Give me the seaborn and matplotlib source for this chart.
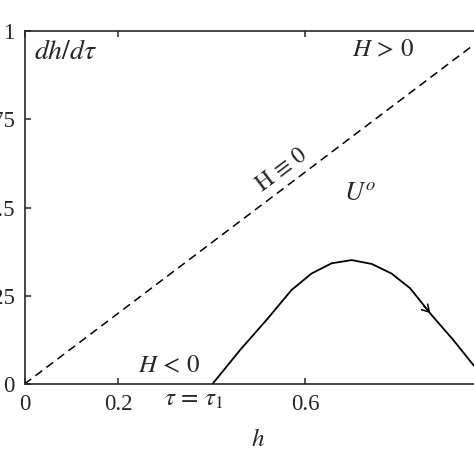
import matplotlib
matplotlib.use("Agg")
import matplotlib.pyplot as plt
import seaborn as sns
import pandas as pd

# values
diag_h = [0.0, 1.0]
diag_v = [0.0, 1.0]
curve_h = [0.402, 0.461, 0.520, 0.571, 0.614, 0.657, 0.700, 0.743, 0.785, 0.825, 0.871, 0.917, 0.96, 1.0]
curve_v = [0.0, 0.096, 0.185, 0.266, 0.313, 0.342, 0.351, 0.340, 0.313, 0.271, 0.195, 0.125, 0.054, 0.0]
xticks = [0, 0.2, 0.6]
xlabels = ["0", "0.2", "0.6"]
yticks = [0, 0.25, 0.5, 0.75, 1]
ylabels = ["0", "0.25", "0.5", "0.75", "1"]

sns.set_style("ticks")
plt.rcParams["font.family"] = ["Liberation Serif", "DejaVu Serif"]
plt.rcParams["mathtext.fontset"] = "stix"

fig = plt.figure(figsize=(4.74, 4.74), dpi=100)
ax = fig.add_axes([24.5 / 474, 90 / 474, 467.5 / 474, 353 / 474])

diag = pd.DataFrame({"h": diag_h, "v": diag_v})
curve = pd.DataFrame({"h": curve_h, "v": curve_v})
sns.lineplot(data=diag, x="h", y="v", ax=ax, color="black", lw=1.1,
             linestyle=(0, (5.5, 3.5)), sort=False)
sns.lineplot(data=curve, x="h", y="v", ax=ax, color="black", lw=1.3, sort=False)

# direction arrow on the falling branch
ax.annotate("", xy=(0.872, 0.195), xytext=(0.85, 0.227),
            arrowprops=dict(arrowstyle="->,head_length=0.5,head_width=0.3",
                            color="black", lw=1.1))

ax.set_xlim(0, 1)
ax.set_ylim(0, 1)
ax.set_xticks(xticks)
ax.set_xticklabels(xlabels)
ax.set_yticks(yticks)
ax.set_yticklabels(ylabels)
ax.tick_params(direction="in", length=4, width=1.1, labelsize=16.5,
               top=True, right=True)
ax.tick_params(axis="x", pad=7)
ax.tick_params(axis="y", pad=7)
for s in ax.spines.values():
    s.set_linewidth(1.2)

ax.set_xlabel("$h$", fontsize=18, labelpad=10)
ax.set_ylabel("")

ax.text(0.02, 0.94, r"$dh/d\tau$", fontsize=20, ha="left", va="center")
ax.text(0.767, 0.946, r"$H\,>\,0$", fontsize=18, ha="center", va="center")
ax.text(0.551, 0.606, r"$\mathrm{H}\,\equiv\,0$", fontsize=17, ha="center",
        va="center", rotation=37)
ax.text(0.718, 0.538, r"$U^o$", fontsize=19, ha="center", va="center")
ax.text(0.309, 0.051, r"$H\,<\,0$", fontsize=18, ha="center", va="center")
ax.text(0.363, -0.045, r"$\tau\,=\,\tau_1$", fontsize=18, ha="center",
        va="center", clip_on=False)

fig.savefig("out.png", dpi=100)
